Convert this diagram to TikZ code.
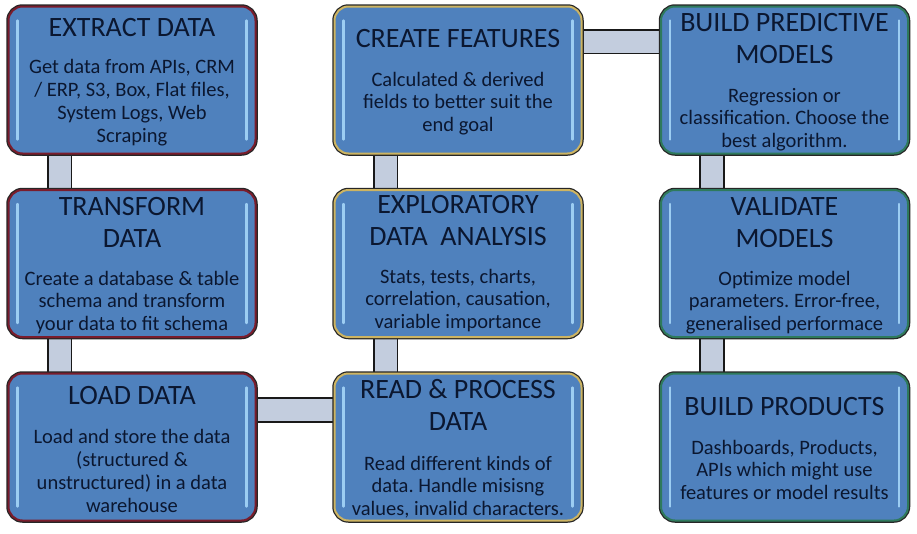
\documentclass[tikz,border=0pt]{standalone}
\usepackage{fontspec}
\setmainfont{Carlito}
\frenchspacing
\usetikzlibrary{backgrounds}
\definecolor{boxblue}{HTML}{4F81BD}
\definecolor{redborder}{HTML}{7A1C2C}
\definecolor{goldborder}{HTML}{CDB462}
\definecolor{greenborder}{HTML}{2E7A5C}
\definecolor{barfill}{HTML}{C3CDDE}
\definecolor{textnavy}{HTML}{0B1730}
\definecolor{glint}{HTML}{9CCDF2}
\tikzset{
  stagebox/.style={rectangle, rounded corners=14pt, minimum width=247pt, minimum height=147pt,
    inner sep=0pt, fill=boxblue, draw=#1, line width=2pt,
    preaction={draw=black!85, line width=4.5pt}},
  titletext/.style={anchor=base, align=center, text=textnavy,
    font=\fontsize{28}{31.5}\selectfont},
  bodytext/.style={anchor=base, align=center, text=textnavy,
    font=\fontsize{20.5}{22.7}\selectfont},
  linkbar/.style={draw=black!90, line width=1.8pt, double=barfill, double distance=22pt},
  glintline/.style={draw=glint, line width=2.4pt, line cap=round}
}
\begin{document}
\begin{tikzpicture}[x=1pt,y=-1pt]
\useasboundingbox (0,0) rectangle (917,533);
% boxes
\node[stagebox=redborder] (extract) at (132,80) {};
\node[stagebox=redborder] (transform) at (132,263.5) {};
\node[stagebox=redborder] (load) at (132,447) {};
\node[stagebox=goldborder] (create) at (458,80) {};
\node[stagebox=goldborder] (eda) at (458,263.5) {};
\node[stagebox=goldborder] (read) at (458,447) {};
\node[stagebox=greenborder] (build) at (784.5,80) {};
\node[stagebox=greenborder] (validate) at (784.5,263.5) {};
\node[stagebox=greenborder] (products) at (784.5,447) {};
% glints
\foreach \b in {extract,transform,load,create,eda,read,build,validate,products}{
  \draw[glintline] ([xshift=10pt,yshift=-15pt]\b.north west) -- ([xshift=10pt,yshift=15pt]\b.south west);
  \draw[glintline] ([xshift=-10pt,yshift=-15pt]\b.north east) -- ([xshift=-10pt,yshift=15pt]\b.south east);
}
% connectors
\begin{scope}[on background layer]
\draw[linkbar] ([xshift=52pt]extract.south west) -- ([xshift=52pt]transform.north west);
\draw[linkbar] ([xshift=52pt]transform.south west) -- ([xshift=52pt]load.north west);
\draw[linkbar] ([yshift=-37.5pt]load.north east) -- ([yshift=-37.5pt]read.north west);
\draw[linkbar] ([xshift=52pt]read.north west) -- ([xshift=52pt]eda.south west);
\draw[linkbar] ([xshift=52pt]eda.north west) -- ([xshift=52pt]create.south west);
\draw[linkbar] ([yshift=-36pt]create.north east) -- ([yshift=-36pt]build.north west);
\draw[linkbar] ([xshift=52pt]build.south west) -- ([xshift=52pt]validate.north west);
\draw[linkbar] ([xshift=52pt]validate.south west) -- ([xshift=52pt]products.north west);
\end{scope}
% texts column 1 (anchor = baseline of last line)
\node[titletext] (t1) at (132,36) {EXTRACT DATA};
\node[bodytext] (b1) at (132,142) {Get data from APIs, CRM\\/ ERP, S3, Box, Flat files,\\System Logs, Web\\Scraping};
\node[titletext] (t2) at (132,247) {TRANSFORM\\DATA};
\node[bodytext] (b2) at (132,330.5) {Create a database \& table\\schema and transform\\your data to fit schema};
\node[titletext] (t3) at (132,404) {LOAD DATA};
\node[bodytext] (b3) at (132,512) {Load and store the data\\(structured \&\\unstructured) in a data\\warehouse};
% column 2
\node[titletext] (t4) at (458,47) {CREATE FEATURES};
\node[bodytext] (b4) at (458,131.5) {Calculated \& derived\\fields to better suit the\\end goal};
\node[titletext] (t5) at (458,245) {EXPLORATORY\\DATA\ \ ANALYSIS};
\node[bodytext] (b5) at (458,328.5) {Stats, tests, charts,\\correlation, causation,\\variable importance};
\node[titletext] (t6) at (458,430) {READ \& PROCESS\\DATA};
\node[bodytext] (b6) at (458,515.5) {Read different kinds of\\data. Handle misisng\\values, invalid characters.};
% column 3
\node[titletext] (t7) at (784.5,63) {BUILD PREDICTIVE\\MODELS};
\node[bodytext] (b7) at (784.5,147.5) {Regression or\\classification. Choose the\\best algorithm.};
\node[titletext] (t8) at (784.5,247) {VALIDATE\\MODELS};
\node[bodytext] (b8) at (784.5,330.5) {Optimize model\\parameters. Error-free,\\generalised performace};
\node[titletext] (t9) at (784.5,415) {BUILD PRODUCTS};
\node[bodytext] (b9) at (784.5,499.5) {Dashboards, Products,\\APIs which might use\\features or model results};
\end{tikzpicture}
\end{document}
